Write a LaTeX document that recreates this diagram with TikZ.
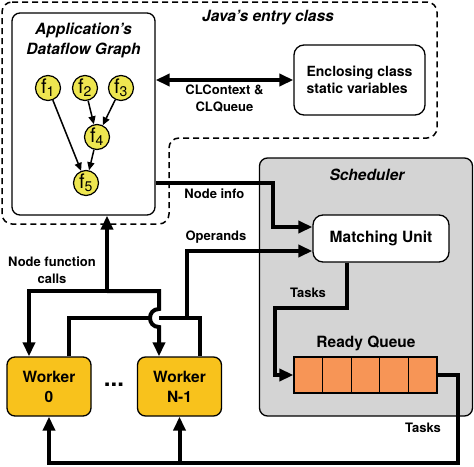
\documentclass[tikz,border=0pt]{standalone}
\usepackage{fontspec}
\setmainfont{TeX Gyre Heros}
\usepackage{xcolor}
\usepackage{tikz}
\usetikzlibrary{positioning,calc,arrows.meta}
\definecolor{fyellow}{RGB}{238,230,80}
\definecolor{wgold}{RGB}{248,194,28}
\definecolor{qorange}{RGB}{247,149,86}
\definecolor{sgray}{RGB}{212,212,212}
\tikzset{
	lbl/.style={font=\fontsize{13}{17}\selectfont\bfseries, align=center},
	ttl/.style={font=\fontsize{15.5}{20}\selectfont\bfseries\itshape, align=center},
	fnode/.style={draw, circle, fill=fyellow, minimum size=25pt, inner sep=0pt,
			line width=1.2pt, font=\fontsize{20}{20}\selectfont},
	flow/.style={line width=1.5pt, -{Triangle[length=8pt,width=7pt]}},
	bus/.style={line width=4pt},
	busarrow/.style={bus, -{Triangle[length=14pt,width=12pt]}},
	worker/.style={draw, fill=wgold, rounded corners=8pt, line width=1.3pt,
			minimum width=84pt, minimum height=59pt, align=center,
			font=\fontsize{15.5}{20}\selectfont\bfseries},
	cell/.style={draw, fill=qorange, line width=1.2pt,
			minimum width=28.6pt, minimum height=36pt, inner sep=0pt}
}

\begin{document}
\begin{tikzpicture}[x=1pt,y=-1pt]
		\useasboundingbox (0,0) rectangle (474,466);

		% Java's entry class
		\draw[dash pattern=on 6pt off 4pt, line width=1.5pt, rounded corners=10pt]
		(2,2) -- (437,2) -- (437,138) -- (169,138) -- (169,224) -- (2,224) -- cycle;
		\node[ttl] (java) at (268,18) {Java’s entry class};

		% Dataflow graph
		\node[draw,
			fill=white,
			rounded corners=8pt,
			line width=1.3pt,
			minimum width=143pt,
			minimum height=202pt
		] (dfg) at (83.5,114) {};
		\node[ttl] (dfgtitle) at (83.5,40) {Application’s\\Dataflow Graph};

		\foreach \n/\x/\y in {1/48/88, 2/85/88, 3/121/88, 4/97/137, 5/86/183}
		\node[fnode] (f\n) at (\x,\y) {f\textsubscript{\n}};

		\foreach \a/\b in {f1/f5, f2/f4, f3/f4, f4/f5}
		\draw[flow] (\a) -- (\b);

		% Enclosing class
		\node[draw,
			rounded corners=10pt,
			line width=1.3pt,
			minimum width=131pt,
			minimum height=70pt,
			align=left,
			font=\fontsize{14}{17}\selectfont\bfseries
		] (encl) at (359.5,80) {Enclosing class\\static variables};

		\draw[bus, {Triangle[length=14pt,width=12pt]}-{Triangle[length=14pt,width=12pt]}]
		(encl.west -| dfg.east) -- (encl.west)
		node[midway,below,lbl]{CLContext \&\\CLQueue};

		% Scheduler
		\node[draw,
			fill=sgray,
			rounded corners=8pt,
			line width=1.3pt,
			minimum width=213pt,
			minimum height=258pt
		] (sched) at (366,287) {};
		\node[ttl] (schedtitle) at (367,175) {Scheduler};

		\node[draw,
			fill=white,
			rounded corners=10pt,
			line width=1.3pt,
			minimum width=136pt,
			minimum height=47pt,
			font=\fontsize{15.5}{18}\selectfont\bfseries
		] (mu) at (381,238.5) {Matching Unit};

		% Ready queue
		\foreach \i in {0,...,4}
		\node[cell] (q\i) at (308.3+28.6*\i,375) {};
		\node[font=\fontsize{15.5}{18}\selectfont\bfseries] (rqtitle) at (366,343) {Ready Queue};

		% Workers
		\node[worker] (w0) at (49,386.5) {Worker\\0};
		\node[worker] (w1) at (179.5,386.5) {Worker\\N-1};
		\node[font=\fontsize{24}{24}\selectfont\bfseries] (dots) at (114,385) {...};

		% Node info
		\coordinate (nibend) at (273,183);
		\draw[busarrow] (f5 -| dfg.east) -- node[below,lbl]{Node info} (nibend)
		|- ([yshift=11.5pt]mu.west);

		% Operands
		\coordinate (opj) at (187,318);
		\draw[busarrow] (opj) |- ([yshift=-12.5pt]mu.west);
		\node[lbl] (oplbl) at (216,237) {Operands};

		% Tasks to ready queue
		\coordinate (tbend) at (275,308);
		\draw[busarrow] ([xshift=-34pt]mu.south) |- (tbend) |- (q0.west);
		\node[lbl] (tlbl1) at (308,293) {Tasks};

		% Tasks to workers
		\coordinate (bbend) at (458,463);
		\draw[busarrow] (q4.east) -| (bbend) -| (w0.south);
		\draw[busarrow] (w1.south |- bbend) -- (w1.south);
		\node[lbl] (tlbl2) at (423,428) {Tasks};

		% Node function calls
		\coordinate (nfj) at (107,291);
		\coordinate (hoptop) at (159,309);
		\coordinate (hopbot) at (159,327);
		\draw[busarrow] (nfj) -- (nfj |- dfg.south);
		\draw[busarrow] (nfj) -| ([xshift=-20pt]w0.north);
		\draw[busarrow] (nfj) -| (hoptop) .. controls (147,309) and (147,327) .. (hopbot)
		-- ([xshift=-20.5pt]w1.north);
		\node[lbl] (nflbl) at (52,270) {Node function\\calls};

		% Worker results
		\coordinate (hopleft) at (150,318);
		\coordinate (hopright) at (159,318);
		\draw[bus] ([xshift=20pt]w0.north) |- (hopleft);
		\draw[bus] (hopright) -| ([xshift=20.5pt]w1.north);
	\end{tikzpicture}
\end{document}
